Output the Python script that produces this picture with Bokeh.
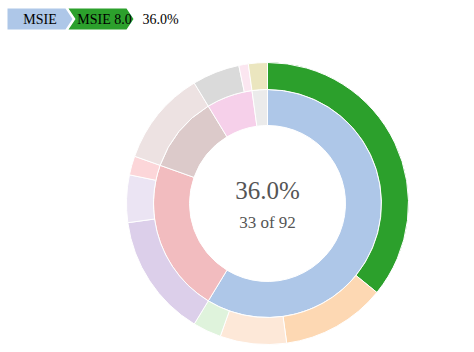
import numpy as np
from bokeh.plotting import figure
from bokeh.models import Range1d, ColumnDataSource
from bokeh.core.properties import value
from bokeh.embed import file_html
from bokeh.resources import INLINE

# ---- data ----
inner_names = ["MSIE", "Firefox", "Chrome", "Safari", "Opera"]
inner_values = [54, 20, 10, 6, 2]
inner_colors = ["#aec7e8", "#f2bcbf", "#dccaca", "#f6d0ea", "#ebebeb"]

outer_names = ["MSIE 8.0", "MSIE 9.0", "MSIE 7.0", "MSIE 6.0",
               "Firefox 3.6", "Firefox 4.0", "Firefox 3.5",
               "Chrome 10",
               "Safari 5", "Safari 4",
               "Opera 11"]
outer_values = [33, 11, 7, 3, 13, 5, 2, 10, 5, 1, 2]
outer_colors = ["#2ca02c", "#fdd8b3", "#fde8d8", "#dff3dc",
                "#dccfea", "#ebe4f3", "#fcd6d9",
                "#ede2e2",
                "#dadada", "#fbe6f0",
                "#ebe6bf"]

trail = ["MSIE", "MSIE 8.0"]
trail_colors = ["#aec7e8", "#2ca02c"]
pct_label = "36.0%"
count_label = "33 of 92"

# ---- layout ----
W, H = 474, 352
cx, cy = 267, H - 203
r0, r1, r2 = 78, 114, 141

p = figure(width=W, height=H, output_backend="svg", toolbar_location=None,
           x_range=Range1d(0, W), y_range=Range1d(0, H), min_border=0)
p.axis.visible = False
p.grid.visible = False
p.outline_line_color = None
p.background_fill_color = "white"


def ring(vals, cols, rin, rout):
    total = float(sum(inner_values))
    c = np.concatenate([[0], np.cumsum(vals)]) / total * 2 * np.pi
    src = ColumnDataSource(dict(start=np.pi / 2 - c[:-1], end=np.pi / 2 - c[1:], color=cols))
    p.annular_wedge(x=cx, y=cy, inner_radius=rin, outer_radius=rout,
                    start_angle="start", end_angle="end", direction="clock",
                    fill_color="color", line_color="white", line_width=1, source=src)


ring(inner_values, inner_colors, r0, r1)
ring(outer_values, outer_colors, r1, r2)

# center labels
p.text(x=[cx], y=[cy + 13], text=[pct_label], text_font=value("Liberation Serif"),
       text_font_size="25px", text_color="#555555", text_align="center", text_baseline="middle")
p.text(x=[cx], y=[cy - 19], text=[count_label], text_font=value("Liberation Serif"),
       text_font_size="17px", text_color="#555555", text_align="center", text_baseline="middle")

# breadcrumb trail
bx0, bw, bt, bs = 7, 58, 7, 3
btop, bbot = H - 8, H - 29
bmid = (btop + bbot) / 2
xs, ys, tx = [], [], []
for i, name in enumerate(trail):
    x0 = bx0 + i * (bw + bs)
    px = [x0, x0 + bw, x0 + bw + bt, x0 + bw, x0]
    py = [btop, btop, bmid, bbot, bbot]
    if i > 0:
        px.append(x0 + bt)
        py.append(bmid)
    xs.append(px)
    ys.append(py)
    tx.append(x0 + (bw + bt) / 2 + (bt / 2 if i > 0 else 0))
p.patches(xs=xs, ys=ys, fill_color=trail_colors, line_color=None)
p.text(x=tx, y=[bmid] * len(trail), text=trail, text_font=value("Liberation Serif"),
       text_font_size="14px", text_color="black", text_align="center", text_baseline="middle")
p.text(x=[bx0 + len(trail) * (bw + bs) + bt + 6], y=[bmid], text=[pct_label],
       text_font=value("Liberation Serif"), text_font_size="14px", text_color="black",
       text_align="left", text_baseline="middle")

open("out.html", "w").write(file_html(p, INLINE))
